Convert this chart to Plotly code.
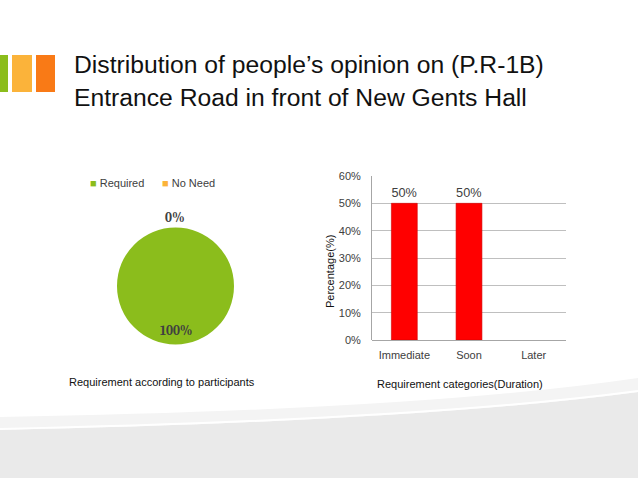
import plotly.graph_objects as go

W, H = 638, 478

# ---- data ----
title_lines = ["Distribution of people\u2019s opinion on (P.R-1B)",
               "Entrance Road in front of New Gents Hall"]
pie_labels = ["Required", "No Need"]
pie_values = [100, 0]
pie_colors = ["#8BBD1C", "#FBB33A"]
pie_caption = "Requirement according to participants"

bar_categories = ["Immediate", "Soon", "Later"]
bar_values = [0.50, 0.50, None]
bar_ytitle = "Percentage(%)"
bar_xtitle = "Requirement categories(Duration)"
y_ticks = [0, 0.1, 0.2, 0.3, 0.4, 0.5, 0.6]


def px(x):
    return x / W


def py(y):
    return 1 - y / H


FONT = "Arial, Liberation Sans, sans-serif"
SERIF = "Cambria, Liberation Serif, serif"
TXT = "#404040"
DARK = "#111111"

fig = go.Figure()

# pie
fig.add_trace(go.Pie(
    labels=pie_labels, values=pie_values,
    marker=dict(colors=pie_colors, line=dict(width=0)),
    textinfo="none", sort=False, direction="clockwise", rotation=0,
    domain=dict(x=[px(117), px(234)], y=[py(345), py(227)]),
    hoverinfo="label+percent", showlegend=False,
))

# bar
fig.add_trace(go.Bar(
    x=bar_categories, y=bar_values,
    marker=dict(color="#FF0000", line=dict(color="#D00000", width=0.6)),
    width=0.4,
    texttemplate="%{y:.0%}", textposition="outside",
    textfont=dict(family=FONT, size=13, color=TXT),
    cliponaxis=False, showlegend=False,
))

shapes = []
# logo blocks
for (x0, x1, c) in [(-4, 8, "#8BBD1C"), (12, 32, "#FBB33A"), (36, 55, "#F97A16")]:
    shapes.append(dict(type="rect", xref="paper", yref="paper",
                       x0=px(x0), x1=px(x1), y0=py(92), y1=py(55),
                       fillcolor=c, line=dict(width=0), layer="below"))


def path(pts, close=True):
    s = ""
    for p in pts:
        cmd = p[0]
        coords = " ".join(f"{px(a):.5f},{py(b):.5f}" for a, b in p[1:])
        s += f" {cmd} {coords}"
    return s.strip() + (" Z" if close else "")


# bottom swoosh
light = path([("M", (0, 417)), ("Q", (420, 410), (638, 378)), ("L", (638, 392)),
              ("Q", (420, 421), (0, 430))])
main = path([("M", (0, 430)), ("Q", (420, 421), (638, 392)), ("L", (638, 480)),
             ("L", (0, 480))])
edge = path([("M", (0, 429)), ("Q", (420, 420), (638, 391))], close=False)
shapes.append(dict(type="path", xref="paper", yref="paper", path=light,
                   fillcolor="#F4F4F4", line=dict(width=0), layer="below"))
shapes.append(dict(type="path", xref="paper", yref="paper", path=main,
                   fillcolor="#EAEAEA", line=dict(width=0), layer="below"))
shapes.append(dict(type="path", xref="paper", yref="paper", path=edge,
                   line=dict(color="#FFFFFF", width=2), layer="below"))

annotations = []
for i, t in enumerate(title_lines):
    annotations.append(dict(text=t, xref="paper", yref="paper", x=px(72), y=py([64, 97][i]),
                            xanchor="left", yanchor="middle", showarrow=False,
                            font=dict(family=FONT, size=24.7, color=DARK)))
# legend (manual)
leg_x = [88, 160]
for i, lab in enumerate(pie_labels):
    annotations.append(dict(
        text=f'<span style="color:{pie_colors[i]}">\u25a0</span> {lab}',
        xref="paper", yref="paper", x=px(leg_x[i]), y=py(183),
        xanchor="left", yanchor="middle", showarrow=False,
        font=dict(family=FONT, size=11, color=TXT)))
# pie percentage labels
annotations.append(dict(text=f"{pie_values[1]}%", xref="paper", yref="paper",
                        x=px(175), y=py(217), xanchor="center", yanchor="middle", showarrow=False,
                        font=dict(family=SERIF, size=13, color=TXT, weight="bold")))
annotations.append(dict(text=f"{pie_values[0]}%", xref="paper", yref="paper",
                        x=px(176), y=py(330), xanchor="center", yanchor="middle", showarrow=False,
                        font=dict(family=SERIF, size=13, color=TXT, weight="bold")))
annotations.append(dict(text=pie_caption, xref="paper", yref="paper",
                        x=px(162), y=py(382), xanchor="center", yanchor="middle", showarrow=False,
                        font=dict(family=FONT, size=11, color=DARK)))
annotations.append(dict(text=bar_xtitle, xref="paper", yref="paper",
                        x=px(460), y=py(384), xanchor="center", yanchor="middle", showarrow=False,
                        font=dict(family=FONT, size=11, color=DARK)))
annotations.append(dict(text=bar_ytitle, xref="paper", yref="paper",
                        x=px(330), y=py(272), xanchor="center", yanchor="middle",
                        showarrow=False, textangle=-90,
                        font=dict(family=FONT, size=11, color=DARK)))

fig.update_layout(
    template="none",
    width=W, height=H, margin=dict(l=0, r=0, t=0, b=0, pad=0, autoexpand=False),
    paper_bgcolor="#FFFFFF", plot_bgcolor="rgba(0,0,0,0)",
    font=dict(family=FONT, color=TXT, size=11),
    shapes=shapes, annotations=annotations,
    showlegend=False,
    xaxis=dict(domain=[px(372), px(566)], showgrid=False, showline=False,
               ticks="", ticklabelstandoff=7,
               tickfont=dict(family=FONT, size=11, color=TXT), fixedrange=True),
    yaxis=dict(domain=[py(340), py(176)], range=[0, 0.6], tickvals=y_ticks, tickformat=".0%",
               showgrid=True, gridcolor="#BFBFBF", gridwidth=1, showline=True,
               linecolor="#A6A6A6", linewidth=1, zeroline=True, zerolinecolor="#A6A6A6",
               ticks="", ticklabelstandoff=8, tickfont=dict(family=FONT, size=11, color=TXT),
               fixedrange=True),
    bargap=0.6,
)

fig.write_html("out.html")
